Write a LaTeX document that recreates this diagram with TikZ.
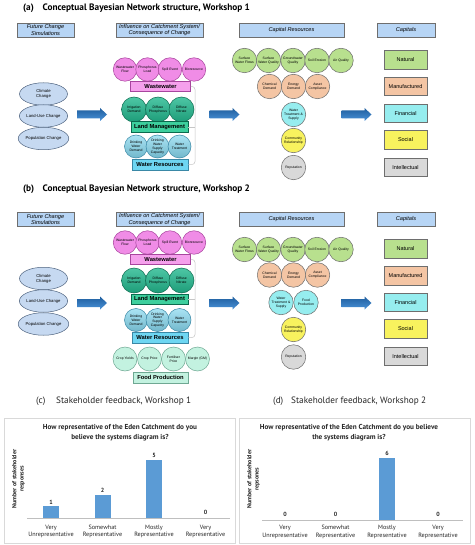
\documentclass[tikz,border=0pt]{standalone}
\usepackage{fontspec}
\setmainfont{PT Sans}
\newfontfamily\arial{Liberation Sans}
\usetikzlibrary{shapes.geometric}
\definecolor{hdrblue}{HTML}{B7D5F5}
\definecolor{ellblue}{HTML}{C6D9F1}
\definecolor{ellline}{HTML}{4F6480}
\definecolor{arrA}{HTML}{4A92D8}
\definecolor{arrB}{HTML}{1F5E9E}
\definecolor{pinkF}{HTML}{F08CE6}
\definecolor{pinkL}{HTML}{A8459E}
\definecolor{pinkBar}{HTML}{F5A0EC}
\definecolor{tealF}{HTML}{22B88E}
\definecolor{tealL}{HTML}{0B6A4E}
\definecolor{tealBar}{HTML}{3DCF9D}
\definecolor{wblueF}{HTML}{86D8EF}
\definecolor{wblueL}{HTML}{3A88A6}
\definecolor{wblueBar}{HTML}{6ED6F2}
\definecolor{mintF}{HTML}{C3F2E0}
\definecolor{mintL}{HTML}{6FA893}
\definecolor{natF}{HTML}{B8E08E}
\definecolor{manF}{HTML}{F4C5A4}
\definecolor{finF}{HTML}{96EDEF}
\definecolor{socF}{HTML}{F8F25E}
\definecolor{intF}{HTML}{D9D9D9}
\definecolor{cirL}{HTML}{6E6E6E}
\definecolor{barblue}{HTML}{5B9BD5}
\definecolor{frameG}{HTML}{D9D9D9}
\definecolor{axisG}{HTML}{BFBFBF}
\definecolor{txt}{HTML}{262626}
\newcommand\bigarr[1]{\begin{scope}[shift={#1}]
  \shade[top color=arrB, bottom color=arrA] (-15,-4) -- (8,-4) -- (8,-6.5) -- (15,0) -- (8,6.5) -- (8,4) -- (-15,4) -- cycle;
\end{scope}}
\begin{document}
\begin{tikzpicture}[x=1pt,y=-1pt,
  ttl/.style={font=\bfseries\fontsize{9.3}{11}\selectfont, inner sep=0, anchor=west},
  sttl/.style={font=\fontsize{9.2}{11}\selectfont, inner sep=0, anchor=west, text=txt},
  hdr/.style={draw=cirL, fill=hdrblue, line width=0.6pt, minimum height=14, inner sep=0,
     align=center, font=\arial\itshape\fontsize{5.6}{6.8}\selectfont},
  ell/.style={ellipse, draw=ellline, fill=ellblue, line width=0.5pt, minimum width=48,
     minimum height=22.5, inner sep=0, align=center, font=\arial\fontsize{4.2}{4.9}\selectfont},
  circ/.style={circle, line width=0.5pt, inner sep=0, align=center,
     font=\arial\fontsize{3.4}{3.9}\selectfont},
  pinkc/.style={circ, draw=pinkL, fill=pinkF, minimum size=23.5},
  tealc/.style={circ, draw=tealL, top color=tealF!80!white, bottom color=tealF!85!black, minimum size=25},
  wbluec/.style={circ, draw=wblueL, top color=wblueF!70!white, bottom color=wblueF!85!black, minimum size=23},
  mintc/.style={circ, draw=mintL, fill=mintF, minimum size=24},
  capc/.style={circ, draw=cirL, minimum size=24.5},
  bar/.style={line width=0.6pt, minimum height=10.5, inner sep=0,
     font=\arial\bfseries\fontsize{5.8}{6}\selectfont},
  capbox/.style={draw=cirL, line width=0.6pt, minimum width=43, minimum height=18.5, inner sep=0,
     font=\arial\fontsize{5.5}{6}\selectfont},
  brk/.style={draw=gray!45, line width=0.5pt, rounded corners=3},
  frame/.style={draw=frameG, line width=0.6pt},
  axisl/.style={draw=axisG, line width=0.6pt},
  cbar/.style={fill=barblue, draw=none, minimum width=16, inner sep=0, anchor=south},
  ctitle/.style={font=\bfseries\fontsize{7.2}{10}\selectfont, align=center, text=txt},
  ylab/.style={font=\bfseries\fontsize{6}{7.2}\selectfont, align=center, text=txt, rotate=90},
  cat/.style={font=\fontsize{6.2}{7.4}\selectfont, align=center, text=txt},
  val/.style={font=\bfseries\fontsize{6}{6.5}\selectfont, text=txt, inner sep=1.5},
]
\useasboundingbox (0,0) rectangle (474,545);
\fill[white] (0,0) rectangle (474,545);

% ================= Panel (a) =================
\node[ttl] (ta) at (23,8) {(a)};
\node[ttl] (tat) at (42.5,8) {Conceptual Bayesian Network structure, Workshop 1};

\node[hdr, minimum width=57] (fa) at (45.5,30) {Future Change\\Simulations};
\node[hdr, minimum width=87] (ia) at (159.5,30) {Influence on Catchment System/\\Consequence of Change};
\node[hdr, minimum width=105] (ca) at (291.5,30) {Capital Resources};
\node[hdr, minimum width=58] (ka) at (406,30) {Capitals};

\node[ell] (ea1) at (43.5,94) {Climate\\Change};
\node[ell] (ea2) at (43.5,116) {Land-Use Change};
\node[ell] (ea3) at (43.5,138.5) {Population Change};

\bigarr{(92,114.5)}
\bigarr{(224.5,114.5)}
\bigarr{(356.5,114.5)}

\node[pinkc] (pa1) at (125,69.5) {Wastewater\\Flow};
\node[pinkc] (pa2) at (147.5,69.5) {Phosphorus\\Load};
\node[pinkc] (pa3) at (170,69.5) {Spill Event};
\node[pinkc] (pa4) at (194,69.5) {Bioresource};
\node[bar, draw=pinkL, fill=pinkBar, minimum width=60] (wwa) at (160.5,86.5) {Wastewater};

\node[tealc] (la1) at (134,109.5) {Irrigation\\Demand};
\node[tealc] (la2) at (158,109.5) {Diffuse\\Phosphorus};
\node[tealc] (la3) at (181.5,109.5) {Diffuse\\Nitrate};
\node[bar, draw=tealL, fill=tealBar, minimum width=57] (lma) at (159.5,127) {Land Management};

\node[wbluec] (wa1) at (136,146.5) {Drinking\\Water\\Demand};
\node[wbluec] (wa2) at (157.5,146.5) {Drinking\\Water\\Supply\\Capacity};
\node[wbluec] (wa3) at (179.5,146.5) {Water\\Treatment};
\node[bar, draw=wblueL, fill=wblueBar, minimum width=56, minimum height=11] (wra) at (160,164.5) {Water Resources};

\draw[brk] (wwa.east) -- (195,86.5) -- (195,164.5) -- (wra.east);
\draw[brk] (lma.east) -- (195,127);

\node[capc, fill=natF] (ga1) at (244.5,60.5) {Surface\\Water Flows};
\node[capc, fill=natF] (ga2) at (268.5,60.5) {Surface\\Water Quality};
\node[capc, fill=natF] (ga3) at (293,60.5) {Groundwater\\Quality};
\node[capc, fill=natF] (ga4) at (317,60.5) {Soil Erosion};
\node[capc, fill=natF] (ga5) at (341,60.5) {Air Quality};
\node[capc, fill=manF] (oa1) at (269.5,86.5) {Chemical\\Demand};
\node[capc, fill=manF] (oa2) at (293.5,86.5) {Energy\\Demand};
\node[capc, fill=manF] (oa3) at (317.5,86.5) {Asset\\Compliance};
\node[capc, fill=finF] (fia1) at (293.5,114.5) {Water\\Treatment \&\\Supply};
\node[capc, fill=socF] (sa1) at (293.5,140.5) {Community\\Relationship};
\node[capc, fill=intF] (ra1) at (293.5,167.5) {Reputation};

\node[capbox, fill=natF] (kna) at (405.5,60) {Natural};
\node[capbox, fill=manF] (kma) at (405.5,86.5) {Manufactured};
\node[capbox, fill=finF] (kfa) at (405.5,113.5) {Financial};
\node[capbox, fill=socF] (ksa) at (405.5,140) {Social};
\node[capbox, fill=intF] (kia) at (405.5,167.5) {Intellectual};

% ================= Panel (b) =================
\node[ttl] (tb) at (23,189) {(b)};
\node[ttl] (tbt) at (42.5,189) {Conceptual Bayesian Network structure, Workshop 2};

\node[hdr, minimum width=57] (fb) at (45.5,219.5) {Future Change\\Simulations};
\node[hdr, minimum width=87] (ib) at (159.5,219.5) {Influence on Catchment System/\\Consequence of Change};
\node[hdr, minimum width=105] (cb) at (291.5,219.5) {Capital Resources};
\node[hdr, minimum width=58] (kb) at (406,219.5) {Capitals};

\node[ell] (eb1) at (43.5,278.5) {Climate\\Change};
\node[ell] (eb2) at (43.5,301) {Land-Use Change};
\node[ell] (eb3) at (43.5,324) {Population Change};

\bigarr{(92,303)}
\bigarr{(224.5,303)}
\bigarr{(356.5,303)}

\node[pinkc] (pb1) at (125,242.5) {Wastewater\\Flow};
\node[pinkc] (pb2) at (147.5,242.5) {Phosphorus\\Load};
\node[pinkc] (pb3) at (170,242.5) {Spill Event};
\node[pinkc] (pb4) at (194,242.5) {Bioresource};
\node[bar, draw=pinkL, fill=pinkBar, minimum width=60] (wwb) at (160.5,259.5) {Wastewater};

\node[tealc] (lb1) at (134,280.5) {Irrigation\\Demand};
\node[tealc] (lb2) at (158,280.5) {Diffuse\\Phosphorus};
\node[tealc] (lb3) at (181.5,280.5) {Diffuse\\Nitrate};
\node[bar, draw=tealL, fill=tealBar, minimum width=57] (lmb) at (159.5,299.5) {Land Management};

\node[wbluec] (wb1) at (136,320) {Drinking\\Water\\Demand};
\node[wbluec] (wb2) at (157.5,320) {Drinking\\Water\\Supply\\Capacity};
\node[wbluec] (wb3) at (179.5,320) {Water\\Treatment};
\node[bar, draw=wblueL, fill=wblueBar, minimum width=56, minimum height=11] (wrb) at (160,337.5) {Water Resources};

\draw[brk] (wwb.east) -- (195,259.5) -- (195,337.5) -- (wrb.east);
\draw[brk] (lmb.east) -- (195,299.5);

\node[mintc] (mb1) at (125,359) {Crop Yields};
\node[mintc] (mb2) at (149.5,359) {Crop Price};
\node[mintc] (mb3) at (173.5,359) {Fertiliser\\Price};
\node[mintc] (mb4) at (197.5,359) {Margin (GM)};
\node[bar, draw=mintL, fill=mintF, minimum width=55, minimum height=11] (fpb) at (160.5,377.5) {Food Production};

\node[capc, fill=natF] (gb1) at (244.5,249.5) {Surface\\Water Flows};
\node[capc, fill=natF] (gb2) at (268.5,249.5) {Surface\\Water Quality};
\node[capc, fill=natF] (gb3) at (293,249.5) {Groundwater\\Quality};
\node[capc, fill=natF] (gb4) at (317,249.5) {Soil Erosion};
\node[capc, fill=natF] (gb5) at (341,249.5) {Air Quality};
\node[capc, fill=manF] (ob1) at (269.5,275) {Chemical\\Demand};
\node[capc, fill=manF] (ob2) at (293.5,275) {Energy\\Demand};
\node[capc, fill=manF] (ob3) at (317.5,275) {Asset\\Compliance};
\node[capc, fill=finF] (fib1) at (281,302.5) {Water\\Treatment \&\\Supply};
\node[capc, fill=finF] (fib2) at (306,302.5) {Food\\Production};
\node[capc, fill=socF] (sb1) at (293.5,329.5) {Community\\Relationship};
\node[capc, fill=intF] (rb1) at (293.5,357) {Reputation};

\node[capbox, fill=natF] (knb) at (405.5,249) {Natural};
\node[capbox, fill=manF] (kmb) at (405.5,276) {Manufactured};
\node[capbox, fill=finF] (kfb) at (405.5,302.5) {Financial};
\node[capbox, fill=socF] (ksb) at (405.5,329) {Social};
\node[capbox, fill=intF] (kib) at (405.5,356.5) {Intellectual};

% ================= Panel (c) =================
\node[sttl] (tc) at (36,401) {(c)};
\node[sttl] (tct) at (56,401) {Stakeholder feedback, Workshop 1};
\draw[frame] (4,418) rectangle (235,543);
\node[ctitle] (cti) at (120,433) {How representative of the Eden Catchment do you\\believe the systems diagram is?};
\node[ylab] (cyl) at (18.5,479) {Number of stakeholder\\responses};
\coordinate (cx0) at (27,518);
\coordinate (cx1) at (230,518);
\draw[axisl] (cx0) -- (cx1);
\node[cbar, minimum height=11.6] (cb1) at (51,518) {};
\node[cbar, minimum height=23.2] (cb2) at (102.5,518) {};
\node[cbar, minimum height=58] (cb3) at (154,518) {};
\node[val, anchor=south] (cv1) at (cb1.north) {1};
\node[val, anchor=south] (cv2) at (cb2.north) {2};
\node[val, anchor=south] (cv3) at (cb3.north) {5};
\node[val, anchor=south] (cv4) at (205.5,516) {0};
\node[cat] (cc1) at (51,531.5) {Very\\Unrepresentative};
\node[cat] (cc2) at (102.5,531.5) {Somewhat\\Representative};
\node[cat] (cc3) at (154,531.5) {Mostly\\Representative};
\node[cat] (cc4) at (205.5,531.5) {Very\\Representative};

% ================= Panel (d) =================
\node[sttl] (td) at (273,401) {(d)};
\node[sttl] (tdt) at (291,401) {Stakeholder feedback, Workshop 2};
\draw[frame] (239,418) rectangle (470,543);
\node[ctitle] (dti) at (349,433) {How representative of the Eden Catchment do you believe\\the systems diagram is?};
\node[ylab] (dyl) at (253.5,479) {Number of stakeholder\\repsones};
\coordinate (dx0) at (262,520);
\coordinate (dx1) at (463,520);
\draw[axisl] (dx0) -- (dx1);
\node[cbar, minimum height=62] (db3) at (387,520) {};
\node[val, anchor=south] (dv1) at (285,518) {0};
\node[val, anchor=south] (dv2) at (335.5,518) {0};
\node[val, anchor=south] (dv3) at (db3.north) {6};
\node[val, anchor=south] (dv4) at (438,518) {0};
\node[cat] (dc1) at (285,532) {Very\\Unrepresentative};
\node[cat] (dc2) at (335.5,532) {Somewhat\\Representative};
\node[cat] (dc3) at (387,532) {Mostly\\Representative};
\node[cat] (dc4) at (438,532) {Very\\Representative};
\end{tikzpicture}
\end{document}
